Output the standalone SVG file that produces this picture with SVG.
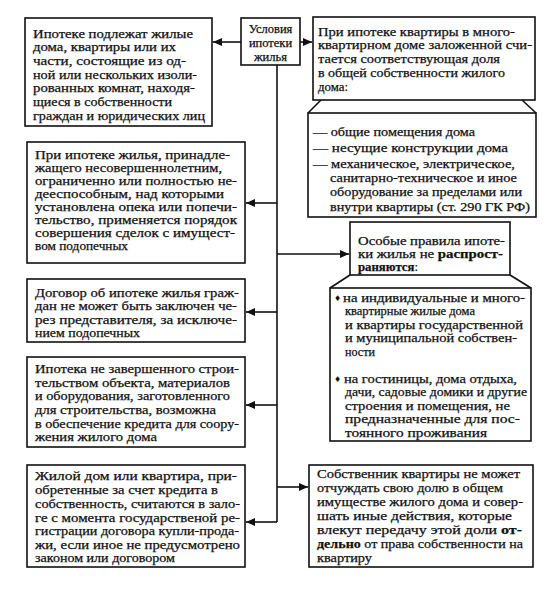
<svg xmlns="http://www.w3.org/2000/svg" width="557" height="600" viewBox="0 0 557 600">
<defs>
<style>
.box{fill:#fff;stroke:#111;stroke-width:1.6}
.ln{fill:none;stroke:#111;stroke-width:1.6}
.t{font-family:'Liberation Serif','DejaVu Serif',serif;font-size:12.5px;fill:#111;stroke:#111;stroke-width:0.25}
.c{text-anchor:middle}
.b{font-weight:bold}
.bul{font-family:'DejaVu Sans',sans-serif;font-size:8px;fill:#111}
</style>
<marker id="ah" markerUnits="userSpaceOnUse" markerWidth="9" markerHeight="8" refX="9" refY="4" orient="auto">
<path d="M0,0 L9,4 L0,8 z" fill="#111"/>
</marker>
</defs>
<rect width="557" height="600" fill="#fff"/>

<g id="connectors">
<line class="ln" x1="277" y1="65" x2="277" y2="522"/>
<line class="ln" x1="241" y1="42" x2="213" y2="42" marker-end="url(#ah)"/>
<line class="ln" x1="300" y1="42" x2="312" y2="42" marker-end="url(#ah)"/>
<line class="ln" x1="277" y1="203" x2="246" y2="203" marker-end="url(#ah)"/>
<line class="ln" x1="277" y1="254" x2="349" y2="254" marker-end="url(#ah)"/>
<line class="ln" x1="277" y1="312" x2="246" y2="312" marker-end="url(#ah)"/>
<line class="ln" x1="277" y1="405" x2="246" y2="405" marker-end="url(#ah)"/>
<line class="ln" x1="277" y1="487" x2="308" y2="487" marker-end="url(#ah)"/>
<line class="ln" x1="277" y1="522" x2="246" y2="522" marker-end="url(#ah)"/>
</g>

<g font-family="'Liberation Serif','DejaVu Serif',serif">
<g id="center">
<rect class="box" x="241" y="18" width="59" height="47"/>
<text class="t c" x="270.5" y="32.5">Условия</text>
<text class="t c" x="270.5" y="47">ипотеки</text>
<text class="t c" x="270.5" y="61">жилья</text>
</g>

<g id="box1">
<rect class="box" x="25" y="18" width="187" height="108"/>
<text class="t" x="33" y="37.5" textLength="160" lengthAdjust="spacingAndGlyphs">Ипотеке подлежат жилые</text>
<text class="t" x="33" y="51" textLength="143" lengthAdjust="spacingAndGlyphs">дома, квартиры или их</text>
<text class="t" x="33" y="65" textLength="153" lengthAdjust="spacingAndGlyphs">части, состоящие из од-</text>
<text class="t" x="33" y="78.5" textLength="164" lengthAdjust="spacingAndGlyphs">ной или нескольких изоли-</text>
<text class="t" x="33" y="92" textLength="162" lengthAdjust="spacingAndGlyphs">рованных комнат, находя-</text>
<text class="t" x="33" y="106" textLength="139" lengthAdjust="spacingAndGlyphs">щиеся в собственности</text>
<text class="t" x="33" y="119.5" textLength="172" lengthAdjust="spacingAndGlyphs">граждан и юридических лиц</text>
</g>

<g id="box2">
<rect class="box" x="313" y="17" width="222" height="83"/>
<text class="t" x="318" y="35.5" textLength="197" lengthAdjust="spacingAndGlyphs">При ипотеке квартиры в много-</text>
<text class="t" x="318" y="48.5" textLength="214" lengthAdjust="spacingAndGlyphs">квартирном доме заложенной счи-</text>
<text class="t" x="318" y="62.5" textLength="182" lengthAdjust="spacingAndGlyphs">тается соответствующая доля</text>
<text class="t" x="318" y="76.5" textLength="187" lengthAdjust="spacingAndGlyphs">в общей собственности жилого</text>
<text class="t" x="318" y="90.5" textLength="30" lengthAdjust="spacingAndGlyphs">дома:</text>
</g>

<g id="box3">
<line class="ln" x1="321" y1="100" x2="308" y2="113"/>
<line class="ln" x1="522" y1="100" x2="536" y2="113"/>
<rect class="box" x="308" y="113" width="228" height="104"/>
<text class="t" x="313" y="135.5" textLength="162" lengthAdjust="spacingAndGlyphs">— общие помещения дома</text>
<text class="t" x="313" y="151.5" textLength="195" lengthAdjust="spacingAndGlyphs">— несущие конструкции дома</text>
<text class="t" x="313" y="167.5" textLength="202" lengthAdjust="spacingAndGlyphs">— механическое, электрическое,</text>
<text class="t" x="330" y="181.5" textLength="187" lengthAdjust="spacingAndGlyphs">санитарно-техническое и иное</text>
<text class="t" x="330" y="196" textLength="192" lengthAdjust="spacingAndGlyphs">оборудование за пределами или</text>
<text class="t" x="330" y="210.5" textLength="200" lengthAdjust="spacingAndGlyphs">внутри квартиры (ст. 290 ГК РФ)</text>
</g>

<g id="box4">
<rect class="box" x="27" y="142" width="218" height="121"/>
<text class="t" x="35" y="159" textLength="195" lengthAdjust="spacingAndGlyphs">При ипотеке жилья, принадле-</text>
<text class="t" x="35" y="172" textLength="187" lengthAdjust="spacingAndGlyphs">жащего несовершеннолетним,</text>
<text class="t" x="35" y="185" textLength="202" lengthAdjust="spacingAndGlyphs">ограниченно или полностью не-</text>
<text class="t" x="35" y="198" textLength="189" lengthAdjust="spacingAndGlyphs">дееспособным, над которыми</text>
<text class="t" x="35" y="211" textLength="202" lengthAdjust="spacingAndGlyphs">установлена опека или попечи-</text>
<text class="t" x="35" y="224" textLength="202" lengthAdjust="spacingAndGlyphs">тельство, применяется порядок</text>
<text class="t" x="35" y="237" textLength="200" lengthAdjust="spacingAndGlyphs">совершения сделок с имущест-</text>
<text class="t" x="35" y="250" textLength="93" lengthAdjust="spacingAndGlyphs">вом подопечных</text>
</g>

<g id="box5">
<rect class="box" x="27" y="279" width="218" height="63"/>
<text class="t" x="35" y="296.5" textLength="204" lengthAdjust="spacingAndGlyphs">Договор об ипотеке жилья граж-</text>
<text class="t" x="35" y="310" textLength="202" lengthAdjust="spacingAndGlyphs">дан не может быть заключен че-</text>
<text class="t" x="35" y="323.5" textLength="202" lengthAdjust="spacingAndGlyphs">рез представителя, за исключе-</text>
<text class="t" x="35" y="337" textLength="105" lengthAdjust="spacingAndGlyphs">нием подопечных</text>
</g>

<g id="box6">
<rect class="box" x="27" y="357" width="218" height="90"/>
<text class="t" x="35" y="372.5" textLength="204" lengthAdjust="spacingAndGlyphs">Ипотека не завершенного строи-</text>
<text class="t" x="35" y="386.5" textLength="195" lengthAdjust="spacingAndGlyphs">тельством объекта, материалов</text>
<text class="t" x="35" y="400" textLength="195" lengthAdjust="spacingAndGlyphs">и оборудования, заготовленного</text>
<text class="t" x="35" y="413.5" textLength="181" lengthAdjust="spacingAndGlyphs">для строительства, возможна</text>
<text class="t" x="35" y="427.5" textLength="204" lengthAdjust="spacingAndGlyphs">в обеспечение кредита для соору-</text>
<text class="t" x="35" y="441" textLength="122" lengthAdjust="spacingAndGlyphs">жения жилого дома</text>
</g>

<g id="box7">
<rect class="box" x="27" y="465" width="218" height="102"/>
<text class="t" x="35" y="479.5" textLength="202" lengthAdjust="spacingAndGlyphs">Жилой дом или квартира, при-</text>
<text class="t" x="35" y="493.5" textLength="183" lengthAdjust="spacingAndGlyphs">обретенные за счет кредита в</text>
<text class="t" x="35" y="507.5" textLength="205" lengthAdjust="spacingAndGlyphs">собственность, считаются в зало-</text>
<text class="t" x="35" y="521.5" textLength="205" lengthAdjust="spacingAndGlyphs">ге с момента государственой ре-</text>
<text class="t" x="35" y="535" textLength="204" lengthAdjust="spacingAndGlyphs">гистрации договора купли-прода-</text>
<text class="t" x="35" y="548.5" textLength="205" lengthAdjust="spacingAndGlyphs">жи, если иное не предусмотрено</text>
<text class="t" x="35" y="562" textLength="140" lengthAdjust="spacingAndGlyphs">законом или договором</text>
</g>

<g id="box8">
<rect class="box" x="350" y="222" width="160" height="53"/>
<text class="t" x="358" y="244.5" textLength="147" lengthAdjust="spacingAndGlyphs">Особые правила ипоте-</text>
<text class="t" x="358" y="257.5" textLength="145" lengthAdjust="spacingAndGlyphs">ки жилья не <tspan class="b">распрост-</tspan></text>
<text class="t" x="358" y="271" textLength="60" lengthAdjust="spacingAndGlyphs"><tspan class="b">раняются</tspan>:</text>
</g>

<g id="box9">
<line class="ln" x1="350" y1="275" x2="330" y2="288"/>
<line class="ln" x1="510" y1="275" x2="531" y2="288"/>
<rect class="box" x="330" y="288" width="201" height="153"/>
<text class="bul" x="334" y="300.5">♦</text>
<text class="t" x="343" y="301.5" textLength="182" lengthAdjust="spacingAndGlyphs">на индивидуальные и много-</text>
<text class="t" x="345" y="315" textLength="130" lengthAdjust="spacingAndGlyphs">квартирные жилые дома</text>
<text class="t" x="345" y="328.5" textLength="178" lengthAdjust="spacingAndGlyphs">и квартиры государственной</text>
<text class="t" x="345" y="342" textLength="172" lengthAdjust="spacingAndGlyphs">и муниципальной собствен-</text>
<text class="t" x="345" y="355.5" textLength="30" lengthAdjust="spacingAndGlyphs">ности</text>
<text class="bul" x="334" y="381.5">♦</text>
<text class="t" x="344" y="382.5" textLength="173" lengthAdjust="spacingAndGlyphs">на гостиницы, дома отдыха,</text>
<text class="t" x="345" y="396" textLength="182" lengthAdjust="spacingAndGlyphs">дачи, садовые домики и другие</text>
<text class="t" x="345" y="409.5" textLength="165" lengthAdjust="spacingAndGlyphs">строения и помещения, не</text>
<text class="t" x="345" y="423" textLength="175" lengthAdjust="spacingAndGlyphs">предназначенные для пос-</text>
<text class="t" x="345" y="436.5" textLength="142" lengthAdjust="spacingAndGlyphs">тоянного проживания</text>
</g>

<g id="box10">
<rect class="box" x="309" y="465" width="224" height="102"/>
<text class="t" x="317" y="477.5" textLength="203" lengthAdjust="spacingAndGlyphs">Собственник квартиры не может</text>
<text class="t" x="317" y="491.5" textLength="186" lengthAdjust="spacingAndGlyphs">отчуждать свою долю в общем</text>
<text class="t" x="317" y="505.5" textLength="206" lengthAdjust="spacingAndGlyphs">имуществе жилого дома и совер-</text>
<text class="t" x="317" y="519.5" textLength="195" lengthAdjust="spacingAndGlyphs">шать иные действия, которые</text>
<text class="t" x="317" y="533.5" textLength="205" lengthAdjust="spacingAndGlyphs">влекут передачу этой доли <tspan class="b">от-</tspan></text>
<text class="t" x="317" y="547.5" textLength="206" lengthAdjust="spacingAndGlyphs"><tspan class="b">дельно</tspan> от права собственности на</text>
<text class="t" x="317" y="561.5" textLength="55" lengthAdjust="spacingAndGlyphs">квартиру</text>
</g>
</g>
</svg>
